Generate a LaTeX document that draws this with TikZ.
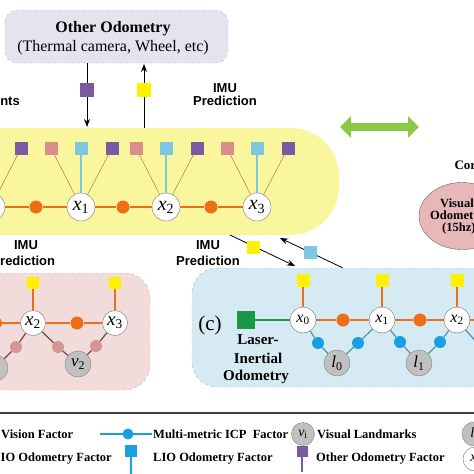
\documentclass[tikz,border=0pt]{standalone}
\usepackage{fontspec}
\setmainfont{Liberation Serif}
\setsansfont{Liberation Sans}
\usepackage{xcolor}
\usetikzlibrary{shapes,arrows,positioning,calc,shapes.geometric,arrows.meta}
\definecolor{othlav}{RGB}{231,227,238}
\definecolor{vioyellow}{RGB}{250,246,158}
\definecolor{vispink}{RGB}{242,219,219}
\definecolor{liobg}{RGB}{214,234,243}
\definecolor{imuorange}{RGB}{238,110,22}
\definecolor{facpink}{RGB}{219,140,140}
\definecolor{faclblue}{RGB}{125,200,225}
\definecolor{facpurple}{RGB}{122,90,160}
\definecolor{facyellow}{RGB}{255,242,0}
\definecolor{facline}{RGB}{140,105,60}
\definecolor{icpblue}{RGB}{25,160,228}
\definecolor{icpline}{RGB}{70,150,180}
\definecolor{vline}{RGB}{112,72,62}
\definecolor{vdot}{RGB}{214,150,150}
\definecolor{lmkgray}{RGB}{192,192,192}
\definecolor{swapgreen}{RGB}{140,200,72}
\definecolor{liogreen}{RGB}{28,150,72}
\definecolor{vobg}{RGB}{232,184,184}
\newcommand{\xs}[2]{\textit{#1}\textsubscript{#2}}

\begin{document}
\begin{tikzpicture}[x=1pt,y=-1pt,
		fac/.style={rectangle, minimum size=13pt, inner sep=0pt},
		state/.style={circle, draw=black!55, fill=white, inner sep=0pt},
		odot/.style={circle, fill=imuorange, minimum size=13pt, inner sep=0pt},
		lmk/.style={circle, draw=black!50, fill=lmkgray, inner sep=0pt, minimum size=26pt, font=\fontsize{17}{17}\selectfont},
		imutext/.style={font=\sffamily\bfseries\fontsize{13}{13}\selectfont, inner sep=0pt},
		votext/.style={font=\bfseries\fontsize{12.5}{12.5}\selectfont, anchor=west, inner sep=0pt},
		leg/.style={font=\bfseries\fontsize{12.5}{14}\selectfont, anchor=west, inner sep=0pt},
		arr/.style={thick, -{Stealth[length=8pt,width=6pt]}}]
	\useasboundingbox (0,0) rectangle (474,474);

	% other odometry
	\draw[dashed, draw=gray!55, fill=othlav, rounded corners=12] (5,10) rectangle (228,63);
	\node[font=\bfseries\fontsize{16}{16}\selectfont] (oth) at (113,29) {Other Odometry};
	\node[font=\fontsize{16}{16}\selectfont] (othsub) at (113,48) {(Thermal camera, Wheel, etc)};
	\coordinate (othout) at (87,63);
	\coordinate (othin) at (144,64);
	\coordinate (vioin) at (87,127);
	\coordinate (vioout) at (144,128);
	\draw[arr] (othout) -- (vioin);
	\draw[arr] (vioout) -- (othin);
	\node[fac, minimum size=14pt, fill=facpurple] (othfac) at (87,90) {};
	\node[fac, minimum size=14pt, fill=facyellow] (imufac) at (144,90) {};
	\node[imutext, anchor=east] (meas) at (20,101) {nts};
	\node[imutext] (imu1) at (225,88) {IMU};
	\node[imutext] (pred1) at (225,101) {Prediction};

	% VIO region
	\fill[vioyellow, rounded corners=48] (-60,128) rectangle (339,235);
	\node[state, minimum size=28pt] (y0) at (-9,207) {};
	\foreach \i/\xx in {1/81,2/166,3/257} {
		\node[state, minimum size=28pt, font=\fontsize{20}{20}\selectfont] (y\i) at (\xx,207) {\xs{x}{\i}};
		\node[fac, fill=facpink] (pk\i) at (\xx-30,148) {};
		\node[fac, fill=faclblue] (bl\i) at (\xx,148) {};
		\node[fac, fill=facpurple] (pu\i) at (\xx+31,148) {};
		\draw[facline] (pk\i) -- (y\i);
		\draw[faclblue, line width=1.2pt] (bl\i) -- (y\i);
		\draw[facline] (pu\i) -- (y\i);
	}
	\node[fac, fill=facpurple] (pu0) at (21,148) {};
	\draw[facline] (pu0) -- (y0);
	\node[odot] (od1) at (36,207) {};
	\node[odot] (od2) at (123,207) {};
	\node[odot] (od3) at (211,207) {};
	\draw[imuorange, line width=1.2pt] (y0) -- (od1) -- (y1) -- (od2) -- (y2) -- (od3) -- (y3);

	% swap arrow and visual odometry
	\coordinate (swl) at (340,127);
	\coordinate (swr) at (419,127);
	\draw[swapgreen, line width=8pt, {Triangle[length=11pt,width=21pt]}-{Triangle[length=11pt,width=21pt]}] (swl) -- (swr);
	\node[font=\bfseries\fontsize{13}{13}\selectfont, anchor=west] (corr) at (451,165) {Cor};
	\node[ellipse, draw=black!60, fill=vobg, minimum width=86pt, minimum height=67pt] (vo) at (462,216) {};
	\node[votext] (vo1) at (440,203) {Visual};
	\node[votext] (vo2) at (430,215.5) {Odomet};
	\node[votext] (vo3) at (442,228.5) {(15hz)};

	% VIO <-> LIO
	\coordinate (vtop) at (230,235);
	\coordinate (ltop) at (295,266);
	\coordinate (lout) at (343,268);
	\coordinate (vin) at (280,238);
	\draw[arr] (vtop) -- (ltop);
	\draw[arr] (lout) -- (vin);
	\node[fac, fill=facyellow] (imufac2) at (253,247) {};
	\node[fac, fill=faclblue] (liofac) at (310,252) {};
	\node[imutext] (imu2) at (208,245) {IMU};
	\node[imutext] (pred2) at (208,261) {Prediction};
	\node[imutext] (imu3) at (26,245) {IMU};
	\node[imutext, anchor=west] (pred3) at (0,261) {rediction};

	% visual region
	\draw[dashed, draw=gray!55, fill=vispink, rounded corners=25] (-30,273) rectangle (150,390);
	\node[state, minimum size=25pt, font=\fontsize{19}{19}\selectfont] (vx2) at (33,323) {\xs{x}{2}};
	\node[state, minimum size=25pt, font=\fontsize{19}{19}\selectfont] (vx3) at (115,323) {\xs{x}{3}};
	\node[fac, minimum size=12pt, fill=facyellow] (vy2) at (33,283) {};
	\node[fac, minimum size=12pt, fill=facyellow] (vy3) at (115,283) {};
	\draw[imuorange, line width=1.2pt] (vy2) -- (vx2);
	\draw[imuorange, line width=1.2pt] (vy3) -- (vx3);
	\node[odot, minimum size=12pt] (vod1) at (-4,323) {};
	\node[odot] (vod2) at (77,323) {};
	\draw[imuorange, line width=1.5pt] (vod1) -- (vx2) -- (vod2) -- (vx3);
	\node[lmk] (v1) at (-5,368) {};
	\node[lmk] (v2) at (78,364) {\xs{v}{2}};
	\node[circle, fill=vdot, minimum size=12pt, inner sep=0pt] (vd1) at (16,347) {};
	\node[circle, fill=vdot, minimum size=12pt, inner sep=0pt] (vd2) at (58,347) {};
	\node[circle, fill=vdot, minimum size=12pt, inner sep=0pt] (vd3) at (96,346) {};
	\draw[vline, line width=1.2pt] (vx2) -- (vd1) -- (v1);
	\draw[vline, line width=1.2pt] (vx2) -- (vd2) -- (v2);
	\draw[vline, line width=1.2pt] (vx3) -- (vd3) -- (v2);

	% LIO region
	\draw[dashed, draw=gray!55, fill=liobg, rounded corners=25] (192,268) rectangle (520,387);
	\node[font=\fontsize{21}{21}\selectfont] (cc) at (210,325) {(c)};
	\node[fac, minimum size=18pt, fill=liogreen] (lio) at (246,320) {};
	\node[font=\bfseries\fontsize{15}{15}\selectfont] (lio1) at (258,340) {Laser-};
	\node[font=\bfseries\fontsize{15}{15}\selectfont] (lio2) at (258,358) {Inertial};
	\node[font=\bfseries\fontsize{15}{15}\selectfont] (lio3) at (256,377) {Odometry};
	\foreach \i/\xx in {0/303,1/382,2/457} {
		\node[state, minimum size=26pt, font=\fontsize{16}{16}\selectfont] (lx\i) at (\xx,320) {\xs{x}{\i}};
		\node[fac, fill=facyellow] (ly\i) at (\xx,280) {};
		\draw[imuorange!80!brown, line width=1.2pt] (ly\i) -- (lx\i);
	}
	\draw[liogreen, line width=1.2pt] (lio) -- (lx0);
	\coordinate (lend) at (490,320);
	\node[odot] (lod1) at (343,320) {};
	\node[odot] (lod2) at (420,320) {};
	\draw[imuorange, line width=1.2pt] (lx0) -- (lod1) -- (lx1) -- (lod2) -- (lx2) -- (lend);
	\node[lmk] (l0) at (337,363) {\xs{l}{0}};
	\node[lmk] (l1) at (419,363) {\xs{l}{1}};
	\node[circle, fill=icpblue, minimum size=12pt, inner sep=0pt] (bd1) at (318,343) {};
	\node[circle, fill=icpblue, minimum size=12pt, inner sep=0pt] (bd2) at (358,343) {};
	\node[circle, fill=icpblue, minimum size=12pt, inner sep=0pt] (bd3) at (400,342) {};
	\node[circle, fill=icpblue, minimum size=12pt, inner sep=0pt] (bd4) at (440,342) {};
	\coordinate (bend) at (485,352);
	\draw[icpline, line width=1.2pt] (lx0) -- (bd1) -- (l0) -- (bd2) -- (lx1) -- (bd3) -- (l1) -- (bd4) -- (lx2) -- (bend);

	% legend
	\coordinate (rl) at (0,413);
	\coordinate (rr) at (474,413);
	\draw[black!75, line width=1.5pt] (rl) -- (rr);
	\node[leg] (lg1) at (1,434) {Vision Factor};
	\coordinate (icpl) at (100,434);
	\coordinate (icpr) at (152,434);
	\draw[icpblue, line width=1.2pt] (icpl) -- (icpr);
	\node[circle, fill=icpblue, minimum size=11pt, inner sep=0pt] (lgdot) at (128,434) {};
	\node[leg] (lg2) at (153,434) {Multi-metric ICP~~Factor};
	\node[lmk, minimum size=23pt, font=\fontsize{14}{14}\selectfont] (lgv) at (303,434) {\xs{v}{i}};
	\node[leg] (lg3) at (317,434) {Visual Landmarks};
	\node[lmk, minimum size=24pt, font=\fontsize{14}{14}\selectfont] (lgl) at (474,434) {\xs{l}{i}};
	\node[leg] (lg4) at (0.5,459) {IO Odometry Factor};
	\node[fac, minimum size=12pt, fill=icpblue] (lgsq1) at (131,451) {};
	\coordinate (sq1e) at (131,476);
	\draw[icpblue, line width=1.2pt] (lgsq1) -- (sq1e);
	\node[leg] (lg5) at (153,459) {LIO Odometry Factor};
	\node[fac, minimum size=11pt, fill=facpurple] (lgsq2) at (302,451) {};
	\coordinate (sq2e) at (302,472);
	\draw[facpurple, line width=1.2pt] (lgsq2) -- (sq2e);
	\node[leg] (lg6) at (316,459) {Other Odometry Factor};
	\node[state, minimum size=24pt, font=\fontsize{14}{14}\selectfont] (lgx) at (475,459) {\xs{x}{i}};
\end{tikzpicture}
\end{document}
